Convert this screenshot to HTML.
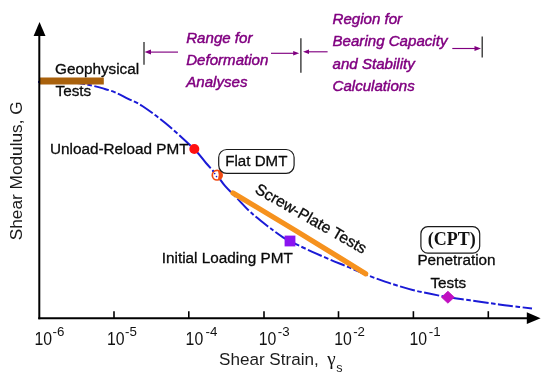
<!DOCTYPE html>
<html>
<head>
<meta charset="utf-8">
<title>Shear Modulus vs Shear Strain</title>
<style>
html,body{margin:0;padding:0;background:#fff;}
body{width:550px;height:379px;overflow:hidden;}
svg{display:block;}
.h{font-family:"Liberation Sans",sans-serif;font-size:15.3px;fill:#0a0a0a;stroke:#0a0a0a;stroke-width:0.3px;}
.p{font-family:"Liberation Sans",sans-serif;font-size:15.1px;font-style:italic;fill:#800080;stroke:#800080;stroke-width:0.45px;}
.t{font-family:"Liberation Sans",sans-serif;font-size:17.5px;fill:#111;}
.ts{font-family:"Liberation Sans",sans-serif;font-size:13.3px;fill:#111;}
.a{font-family:"Liberation Sans",sans-serif;font-size:17.1px;fill:#1c1c1c;}
.g{font-family:"Liberation Serif",serif;font-size:19px;fill:#111;}
</style>
</head>
<body>
<svg width="550" height="379" viewBox="0 0 550 379">
<rect width="550" height="379" fill="#ffffff"/>

<!-- curve -->
<path id="curve" d="M38.0,82.0 C42.7,82.0 58.8,82.0 66.0,82.3 C73.2,82.5 76.7,83.0 81.0,83.5 C85.3,84.0 88.3,84.8 92.0,85.6 C95.7,86.4 99.2,87.3 103.0,88.4 C106.8,89.5 110.3,90.4 114.5,92.1 C118.7,93.8 123.6,96.5 128.2,98.8 C132.8,101.1 136.1,101.9 142.3,106.0 C148.5,110.1 156.9,116.1 165.6,123.3 C174.3,130.5 187.6,142.7 194.3,149.3 C201.0,155.9 202.2,158.7 206.0,163.0 C209.8,167.3 213.8,171.5 217.0,175.3 C220.2,179.1 221.7,182.1 225.0,185.9 C228.3,189.7 232.7,193.8 237.0,198.2 C241.3,202.6 245.5,207.6 250.7,212.3 C255.8,217.0 262.5,222.2 267.9,226.4 C273.3,230.6 279.3,234.9 283.0,237.3 C286.7,239.7 287.8,239.8 290.0,240.9 C292.2,242.1 292.3,242.4 296.0,244.2 C299.7,246.0 306.6,249.2 312.3,251.8 C318.1,254.4 324.4,257.2 330.5,259.8 C336.6,262.4 342.4,264.6 348.6,267.2 C354.8,269.8 361.6,272.9 367.7,275.3 C373.8,277.7 380.2,279.9 385.0,281.6 C389.8,283.3 391.8,283.9 396.4,285.3 C401.0,286.7 407.2,288.6 412.7,290.0 C418.1,291.4 423.2,292.4 429.1,293.6 C435.0,294.8 441.1,296.1 447.9,297.2 C454.7,298.3 462.5,299.2 470.0,300.3 C477.5,301.4 486.2,302.6 492.7,303.5 C499.2,304.4 502.6,305.0 509.1,305.8 C515.6,306.6 528.2,308.0 532.0,308.4" fill="none" stroke="#1a1ad6" stroke-width="2" stroke-dasharray="4.45 2.5 15.2 2.5 4.65 2.5 15.2 2.5 4.65 2.5 15.2 2.5 4.65 2.5 15.2 2.5 4.65 2.5 15.2 2.5 4.65 2.5 15.2 2.5 4.65 2.5 15.2 2.5 27.65 2.5 4 4.1 21.2 2.5 4 2.5 16.4 2.5 4.2 2.5 16 2.5 4 2.5 27.55 2.5 4.65 2.5 15.2 2.5 4.65 2.5 15.2 2.5 4.65 2.5 15.2 2.5 4.65 2.5 15.2 2.5 4.65 2.5 15.2 2.5 4.65 2.5 15.2 2.5 4.65 2.5 15.2 2.5 4.65 2.5 15.2 2.5 4.65 2.5 15.2 2.5 4.65 2.5 15.2 2.5 4.65 2.5"/>

<!-- brown bar -->
<rect x="39" y="77.5" width="64.8" height="7" fill="#a9610c"/>

<!-- orange line -->
<path d="M233,193 Q300,232.8 365.6,273.8" fill="none" stroke="#f6921e" stroke-width="5.3" stroke-linecap="round"/>

<!-- axes -->
<line x1="39.3" y1="319.3" x2="39.3" y2="34" stroke="#000" stroke-width="2"/>
<polygon points="39.5,22 33.6,35.9 45.5,35.9" fill="#000"/>
<line x1="38.3" y1="318.3" x2="530" y2="318.3" stroke="#000" stroke-width="2"/>
<polygon points="540.6,318.2 526.8,312.3 526.8,324.1" fill="#000"/>
<g stroke="#000" stroke-width="1.6">
<line x1="114" y1="318" x2="114" y2="311.2"/>
<line x1="188.8" y1="318" x2="188.8" y2="311.2"/>
<line x1="264" y1="318" x2="264" y2="311.2"/>
<line x1="338.5" y1="318" x2="338.5" y2="311.2"/>
<line x1="413.4" y1="318" x2="413.4" y2="311.2"/>
<line x1="488.3" y1="318" x2="488.3" y2="311.2"/>
</g>

<!-- tick labels -->
<g>
<text class="t" x="34.4" y="345" textLength="17.6" lengthAdjust="spacingAndGlyphs">10</text><text class="ts" x="52.6" y="336">-6</text>
<text class="t" x="107" y="345" textLength="17.6" lengthAdjust="spacingAndGlyphs">10</text><text class="ts" x="125" y="336">-5</text>
<text class="t" x="185.6" y="345" textLength="17.6" lengthAdjust="spacingAndGlyphs">10</text><text class="ts" x="205.6" y="336">-4</text>
<text class="t" x="258.8" y="345" textLength="17.6" lengthAdjust="spacingAndGlyphs">10</text><text class="ts" x="277.8" y="336">-3</text>
<text class="t" x="334.3" y="345" textLength="17.6" lengthAdjust="spacingAndGlyphs">10</text><text class="ts" x="353.2" y="336">-2</text>
<text class="t" x="409.4" y="345" textLength="17.6" lengthAdjust="spacingAndGlyphs">10</text><text class="ts" x="428.8" y="336">-1</text>
</g>

<!-- axis titles -->
<text class="a" x="219" y="365.3">Shear Strain,</text><text class="g" x="327.3" y="365.3">γ</text><text class="a" x="336.2" y="371.6" style="font-size:12.6px">s</text>
<text class="a" transform="translate(22.3,240.3) rotate(-90)" style="font-size:17.25px">Shear Modulus, G</text>

<!-- markers -->
<circle cx="194.3" cy="149" r="5" fill="#ff1010"/>
<circle cx="217.1" cy="175.2" r="4.8" fill="#fff" stroke="#f04a12" stroke-width="1.7"/>
<g fill="#1a1ad6"><circle cx="212.9" cy="171.3" r="0.8"/><circle cx="214.7" cy="173.6" r="0.8"/><circle cx="216.5" cy="176.6" r="0.8"/></g>
<path d="M217.9,170.3 A4.9,4.9 0 0 1 217.9,180.1 Q219.6,175.2 217.9,170.3 Z" fill="#f04a12"/>
<rect x="284.6" y="235.6" width="10.8" height="10.8" fill="#8a14f0"/>
<polygon points="447.9,291.2 454.3,297.2 447.9,303.2 441.5,297.2" fill="#c010c0" stroke="#c010c0" stroke-width="0.8" stroke-linejoin="round"/>

<!-- labels -->
<text class="h" x="55" y="74.4">Geophysical</text>
<text class="h" x="55.5" y="96.4">Tests</text>
<text class="h" x="50" y="154.1">Unload-Reload PMT</text>
<rect x="218.7" y="149.5" width="75.4" height="23.8" rx="8" ry="8" fill="#fff" stroke="#1a1a1a" stroke-width="1.2"/>
<text class="h" x="225.3" y="166.3" style="font-size:15.1px">Flat DMT</text>
<text class="h" transform="translate(254,192.2) rotate(29.7)" style="font-size:15.7px">Screw-Plate Tests</text>
<text class="h" x="161.8" y="263.2">Initial Loading PMT</text>
<rect x="420.9" y="226.7" width="58.8" height="26.5" rx="7" ry="7" fill="#fff" stroke="#1a1a1a" stroke-width="1.2"/>
<text x="427.8" y="245" style="font-family:'Liberation Serif',serif;font-weight:bold;font-size:18px;fill:#111">(CPT)</text>
<text class="h" x="417.4" y="265.2">Penetration</text>
<text class="h" x="430.4" y="287.8">Tests</text>

<!-- purple annotations -->
<text class="p" x="186.2" y="42.6">Range for</text>
<text class="p" x="186.2" y="65">Deformation</text>
<text class="p" x="186.2" y="86.8">Analyses</text>
<text class="p" x="332.5" y="23.7">Region for</text>
<text class="p" x="332.5" y="46">Bearing Capacity</text>
<text class="p" x="332.5" y="68.5">and Stability</text>
<text class="p" x="332.5" y="90.8">Calculations</text>

<!-- dimension bars and arrows -->
<g stroke="#222" stroke-width="1.25">
<line x1="144" y1="42" x2="144" y2="64.7"/>
<line x1="300.9" y1="38.3" x2="300.9" y2="72.8"/>
<line x1="482.2" y1="36.6" x2="482.2" y2="57.6"/>
</g>
<g stroke="#800080" stroke-width="1.15" fill="#800080">
<line x1="147" y1="52.1" x2="178" y2="52.1"/><polygon points="144.5,52.1 151,49.6 151,54.6" stroke="none"/>
<line x1="271" y1="53.3" x2="296" y2="53.3"/><polygon points="299.2,53.3 293.2,51.1 293.2,55.5" stroke="none"/>
<line x1="306" y1="51.8" x2="327.6" y2="51.8"/><polygon points="303,51.8 309,49.6 309,54" stroke="none"/>
<line x1="452.3" y1="48.5" x2="478" y2="48.5"/><polygon points="481,48.5 474.5,46 474.5,51" stroke="none"/>
</g>
</svg>
</body>
</html>
